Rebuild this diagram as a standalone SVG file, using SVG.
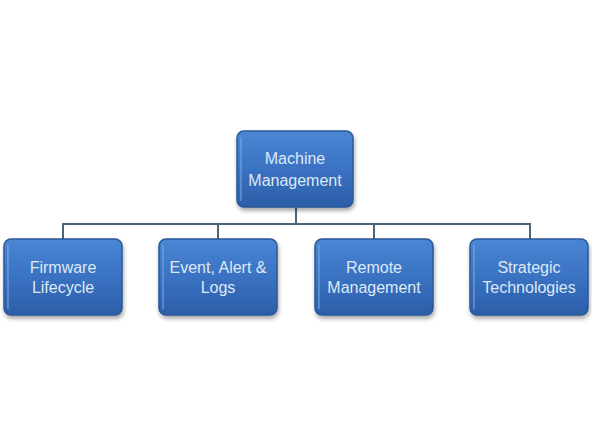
<svg xmlns="http://www.w3.org/2000/svg" width="592" height="444" viewBox="0 0 592 444">
<defs>
<linearGradient id="g" x1="0" y1="0" x2="0" y2="1">
<stop offset="0" stop-color="#4a86d4"/>
<stop offset="0.5" stop-color="#3a72c2"/>
<stop offset="1" stop-color="#2c5ea8"/>
</linearGradient>
<filter id="sh" x="-10%" y="-10%" width="125%" height="130%">
<feGaussianBlur in="SourceAlpha" stdDeviation="2"/>
<feOffset dx="1" dy="3"/>
<feComponentTransfer><feFuncA type="linear" slope="0.35"/></feComponentTransfer>
<feMerge><feMergeNode/><feMergeNode in="SourceGraphic"/></feMerge>
</filter>
</defs>
<style>
.box{fill:url(#g);stroke:#2a5898;stroke-width:1.5;filter:url(#sh)}
.hl{fill:none;stroke:#7aaae6;stroke-width:1.5;opacity:0.7}
.t{font-family:"Liberation Sans",Arial,sans-serif;font-size:16px;fill:#dde8f5;text-anchor:middle}
.c{stroke:#4a6478;stroke-width:2;fill:none}
</style>
<rect width="592" height="444" fill="#ffffff"/>
<g id="connectors">
<path class="c" d="M296 208V224M63 224H530M63 223V239M218 223V239M374 223V239M530 223V239"/>
</g>
<g id="n0">
<rect class="box" x="237" y="131" width="116" height="76" rx="7"/>
<path class="hl" d="M241 137V201"/>
<text class="t" x="295" y="164">Machine</text>
<text class="t" x="295" y="186">Management</text>
</g>
<g id="n1">
<rect class="box" x="4" y="239" width="118" height="76" rx="7"/>
<path class="hl" d="M8 245V309"/>
<text class="t" x="63" y="273">Firmware</text>
<text class="t" x="63" y="293">Lifecycle</text>
</g>
<g id="n2">
<rect class="box" x="159" y="239" width="118" height="76" rx="7"/>
<path class="hl" d="M163 245V309"/>
<text class="t" x="218" y="273">Event, Alert &amp;</text>
<text class="t" x="218" y="293">Logs</text>
</g>
<g id="n3">
<rect class="box" x="315" y="239" width="118" height="76" rx="7"/>
<path class="hl" d="M319 245V309"/>
<text class="t" x="374" y="273">Remote</text>
<text class="t" x="374" y="293">Management</text>
</g>
<g id="n4">
<rect class="box" x="470" y="239" width="118" height="76" rx="7"/>
<path class="hl" d="M474 245V309"/>
<text class="t" x="529" y="273">Strategic</text>
<text class="t" x="529" y="293">Technologies</text>
</g>
</svg>
